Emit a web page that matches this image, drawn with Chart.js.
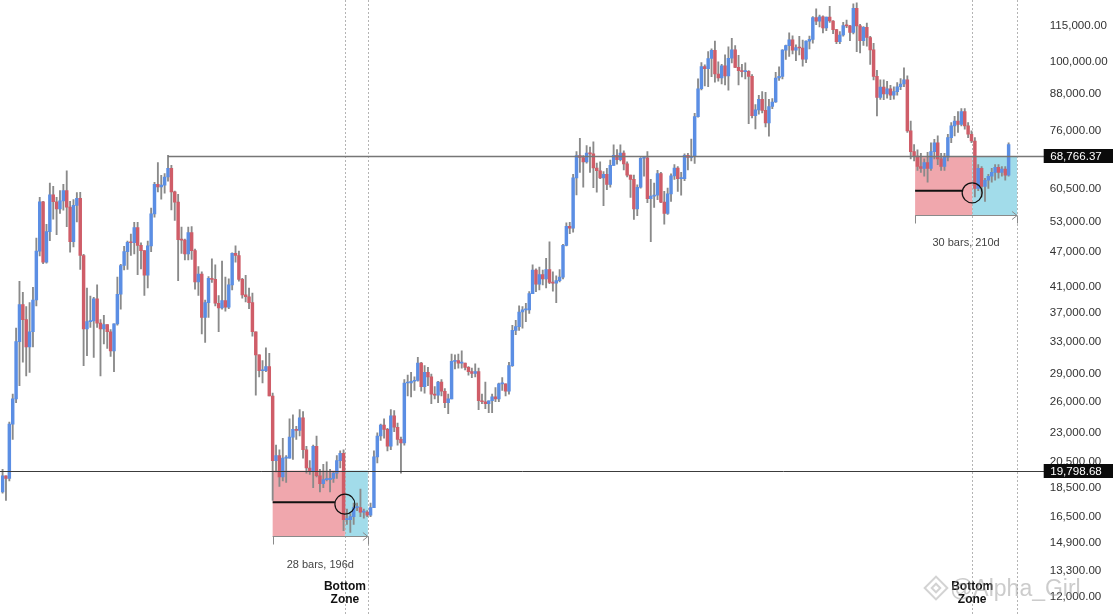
<!DOCTYPE html>
<html>
<head>
<meta charset="utf-8">
<title>BTC weekly - bottom zones</title>
<script src="https://cdn.jsdelivr.net/npm/chart.js@4.4.1/dist/chart.umd.min.js"></script>
<style>
  html, body { margin: 0; padding: 0; background: #fff; }
  #wrap { position: relative; width: 1116px; height: 614px; }
</style>
</head>
<body>
<div id="wrap"><canvas id="chart"></canvas></div>
<script>
// weekly candles, prices in thousands of USD
var openK = [
  18.2,19.4,19.2,23.8,26.3,33.0,38.2,36.0,32.3,34.3,38.9,47.2,57.4,45.2,51.0,59.0,57.4,55.8,57.6,60.0,
  56.2,49.0,56.6,58.2,46.4,34.7,35.7,35.8,39.1,35.5,34.7,35.3,34.3,31.8,35.4,39.8,44.6,47.1,48.9,48.8,
  51.8,48.3,47.3,42.9,48.2,54.7,61.5,60.9,61.3,63.3,65.5,59.7,57.3,49.4,49.3,46.7,50.8,47.3,41.8,43.1,
  36.3,38.5,42.4,42.2,38.4,37.7,38.8,37.8,41.3,46.8,46.4,42.2,39.7,39.4,38.5,34.3,31.3,29.4,29.4,29.9,
  26.6,20.6,21.0,19.3,20.8,20.8,22.6,23.3,23.2,24.4,21.5,20.0,19.8,21.8,19.4,18.8,19.1,19.1,19.2,19.6,
  20.6,21.2,16.3,16.3,16.5,17.1,17.1,16.8,16.8,16.6,17.1,20.9,22.7,23.7,23.3,21.8,24.6,23.5,22.4,22.1,
  28.0,28.0,28.2,28.3,30.3,27.6,29.2,28.7,26.8,26.7,28.1,27.1,25.9,26.3,30.5,30.6,30.3,30.3,29.8,29.3,
  29.1,29.3,26.1,26.0,25.8,26.1,26.5,26.3,27.9,27.9,27.1,30.0,34.5,35.0,37.1,37.4,37.4,39.9,43.8,41.4,
  43.0,42.3,43.9,41.7,41.6,42.0,42.6,48.3,52.1,51.7,63.1,68.9,68.4,67.2,69.6,69.4,65.6,64.9,63.1,64.0,
  61.5,66.3,69.0,67.8,69.6,66.7,63.8,62.7,55.8,60.8,68.2,68.3,58.1,58.7,58.9,64.2,57.3,54.8,59.2,63.6,
  65.6,62.9,62.9,69.0,68.4,68.7,80.4,89.8,98.0,97.2,101.2,104.5,95.2,93.7,98.3,94.5,101.3,104.7,97.7,96.5,
  96.1,96.2,94.3,80.7,82.6,86.1,82.4,78.4,83.7,85.2,93.7,94.3,104.6,106.5,109.0,104.6,105.7,105.5,100.9,108.4,
  109.2,119.0,117.3,119.4,114.2,119.3,117.4,113.5,108.2,111.1,115.3,115.2,112.2,123.5,115.2,108.6,114.5,110.0,104.7,94.3,
  86.8,90.4,88.0,89.8,87.5,88.8,90.5,91.5,93.0,76.0,70.0,68.8,66.0,65.5,67.0,65.5,70.0,72.5,68.0,66.0,
  68.5,74.0,77.5,79.0,78.0,82.0,77.5,75.0,73.0,60.5,65.5,61.0,62.5,63.5,64.5,65.8,64.5,65.3,63.8
];
var highK = [
  19.9,19.4,24.0,26.8,34.8,41.9,40.1,37.9,38.5,40.9,49.7,58.4,57.5,52.5,61.8,61.0,58.4,60.0,61.5,64.9,
  57.5,57.9,59.5,59.6,46.6,40.8,39.5,39.3,41.3,36.0,36.6,35.3,34.6,35.4,42.6,44.8,48.1,49.1,50.5,52.9,
  52.9,48.8,47.3,49.1,56.0,62.0,67.0,63.7,64.2,69.0,66.3,59.9,59.1,51.9,49.5,51.9,52.0,47.6,44.4,43.5,
  38.9,42.7,45.8,44.7,39.6,45.4,42.6,42.3,46.9,48.2,47.2,42.4,42.9,40.8,40.0,34.3,31.3,30.6,32.2,31.5,
  26.9,21.9,21.5,22.5,21.0,24.3,24.7,23.6,25.2,25.0,21.8,20.6,21.9,22.7,19.9,20.3,20.5,19.9,19.7,21.0,
  21.4,21.5,17.0,16.7,17.4,17.4,18.4,17.0,16.9,17.4,21.4,23.0,23.8,24.3,23.4,25.2,25.1,23.9,22.6,28.4,
  28.9,29.2,28.7,31.0,30.4,30.0,29.8,29.0,27.6,28.2,28.4,27.4,26.8,31.4,31.3,31.4,31.8,30.3,29.9,29.7,
  30.2,29.7,26.8,28.1,26.1,26.8,27.5,28.0,28.6,27.9,30.4,35.2,35.9,38.0,37.9,38.4,40.2,44.7,44.0,44.3,
  43.8,45.9,49.0,43.5,42.8,43.9,48.5,52.8,52.9,64.0,70.0,73.8,68.9,71.7,71.3,72.8,66.9,67.2,64.7,65.5,
  67.7,71.9,70.6,71.9,70.2,67.2,63.8,63.8,61.4,68.4,68.5,70.0,62.7,61.8,65.0,64.5,59.8,60.6,64.1,66.5,
  66.0,64.5,69.4,69.5,73.6,81.5,93.4,99.6,98.7,104.0,105.2,108.4,99.9,98.9,102.7,106.0,109.6,106.5,102.5,98.9,
  99.5,96.5,95.0,84.3,87.5,88.8,88.5,86.1,86.4,95.8,97.9,104.9,106.7,112.0,110.7,106.8,110.5,108.9,108.5,110.6,
  119.5,123.2,120.2,119.8,119.3,124.5,117.6,113.6,112.6,116.8,117.9,115.4,125.7,126.2,115.9,114.9,116.4,110.5,107.5,96.6,
  93.0,93.0,92.5,91.0,90.5,92.0,93.5,97.5,94.5,79.0,72.0,70.5,69.5,68.0,69.8,72.5,73.5,74.5,69.5,69.5,
  75.0,78.5,80.5,82.0,83.0,83.0,78.5,76.0,74.0,66.5,66.0,63.0,64.0,65.5,66.5,66.5,66.0,66.0,72.5
];
var lowK = [
  18.1,17.6,19.0,22.4,25.9,27.7,30.4,28.8,29.2,32.3,38.0,46.3,44.9,45.0,49.2,53.6,50.4,54.8,55.5,52.0,
  47.0,48.0,53.0,43.9,30.0,31.2,34.9,31.0,34.9,28.8,32.7,32.1,31.1,29.3,35.2,37.5,43.8,43.9,46.4,46.7,
  43.0,44.0,39.6,40.8,47.1,54.0,59.7,58.0,59.4,62.3,55.6,53.3,42.0,46.8,45.6,45.6,45.7,40.6,39.6,34.0,
  32.9,36.3,41.7,38.0,34.3,37.5,37.2,37.6,40.5,45.2,41.9,39.2,38.6,37.6,33.7,26.7,28.7,28.0,29.3,26.6,
  17.6,19.7,18.6,19.0,18.9,20.8,20.7,22.4,22.7,20.8,19.6,19.5,18.5,19.3,18.2,18.5,19.0,18.2,18.9,19.2,
  20.0,15.6,16.0,15.5,16.0,16.9,16.5,16.4,16.5,16.5,17.1,20.4,22.3,22.5,21.4,21.5,23.1,21.9,19.6,21.9,
  26.6,26.5,27.2,28.2,27.1,26.9,27.7,25.8,26.3,25.9,26.6,25.4,24.8,26.3,29.6,29.7,29.7,29.5,28.9,28.6,
  28.7,25.2,25.8,25.3,24.9,24.9,26.0,26.0,27.2,26.6,26.8,29.9,33.9,34.5,34.8,35.7,36.9,39.9,40.2,40.5,
  41.3,40.8,41.5,40.3,38.5,41.8,42.3,48.2,50.6,50.9,59.0,64.5,60.8,66.9,64.5,60.7,59.6,62.9,56.5,60.2,
  60.8,66.3,66.6,67.5,65.1,63.3,58.4,53.5,54.3,60.6,63.5,57.2,49.0,56.1,57.9,57.2,52.5,54.6,57.5,62.7,
  59.8,58.9,62.4,65.1,67.5,66.8,80.2,89.4,90.8,90.5,94.2,92.2,92.5,91.5,91.2,89.3,99.5,97.6,91.2,94.1,
  93.4,78.2,80.0,76.6,81.2,81.6,77.2,74.4,83.0,85.1,92.8,93.4,100.8,102.1,103.1,100.4,102.7,98.2,99.6,105.1,
  107.5,115.7,114.7,112.0,113.0,116.8,111.7,107.3,107.3,110.6,114.4,108.6,111.6,104.0,103.5,106.6,106.3,98.9,93.0,80.6,
  86.1,86.0,86.5,86.0,86.2,87.5,89.5,90.5,75.5,68.0,67.5,65.0,64.5,63.5,62.0,65.0,68.0,66.5,65.0,65.0,
  67.5,72.5,74.5,75.5,77.5,76.5,74.0,72.5,58.5,60.0,58.5,57.5,60.5,62.0,62.5,63.0,63.5,62.5,63.5
];
var closeK = [
  19.4,19.2,23.8,26.3,33.0,38.2,36.0,32.3,34.3,38.9,47.2,57.4,45.2,51.0,59.0,57.4,55.8,57.6,60.0,56.2,
  49.0,56.6,58.2,46.4,34.7,35.7,35.8,39.1,35.5,34.7,35.3,34.3,31.8,35.4,39.8,44.6,47.1,48.9,48.8,51.8,
  48.3,47.3,42.9,48.2,54.7,61.5,60.9,61.3,63.3,65.5,59.7,57.3,49.4,49.3,46.7,50.8,47.3,41.8,43.1,36.3,
  38.5,42.4,42.2,38.4,37.7,38.8,37.8,41.3,46.8,46.4,42.2,39.7,39.4,38.5,34.3,31.3,29.4,29.4,29.9,26.6,
  20.6,21.0,19.3,20.8,20.8,22.6,23.3,23.2,24.4,21.5,20.0,19.8,21.8,19.4,18.8,19.1,19.1,19.2,19.6,20.6,
  21.2,16.3,16.3,16.5,17.1,17.1,16.8,16.8,16.6,17.1,20.9,22.7,23.7,23.3,21.8,24.6,23.5,22.4,22.1,28.0,
  28.0,28.2,28.3,30.3,27.6,29.2,28.7,26.8,26.7,28.1,27.1,25.9,26.3,30.5,30.6,30.3,30.3,29.8,29.3,29.1,
  29.3,26.1,26.0,25.8,26.1,26.5,26.3,27.9,27.9,27.1,30.0,34.5,35.0,37.1,37.4,37.4,39.9,43.8,41.4,43.0,
  42.3,43.9,41.7,41.6,42.0,42.6,48.3,52.1,51.7,63.1,68.9,68.4,67.2,69.6,69.4,65.6,64.9,63.1,64.0,61.5,
  66.3,69.0,67.8,69.6,66.7,63.8,62.7,55.8,60.8,68.2,68.3,58.1,58.7,58.9,64.2,57.3,54.8,59.2,63.6,65.6,
  62.9,62.9,69.0,68.4,68.7,80.4,89.8,98.0,97.2,101.2,104.5,95.2,93.7,98.3,94.5,101.3,104.7,97.7,96.5,96.1,
  96.2,94.3,80.7,82.6,86.1,82.4,78.4,83.7,85.2,93.7,94.3,104.6,106.5,109.0,104.6,105.7,105.5,100.9,108.4,109.2,
  119.0,117.3,119.4,114.2,119.3,117.4,113.5,108.2,111.1,115.3,115.2,112.2,123.5,115.2,108.6,114.5,110.0,104.7,94.3,86.8,
  90.4,88.0,89.8,87.5,88.8,90.5,91.5,93.0,76.0,70.0,68.8,66.0,65.5,67.0,65.5,70.0,72.5,68.0,66.0,68.5,
  74.0,77.5,79.0,78.0,82.0,77.5,75.0,73.0,60.5,65.5,61.0,62.5,63.5,64.5,65.8,64.5,65.3,63.8,72.0
];

// right axis tick labels
var yTicks = [115000, 100000, 88000, 76000, 60500, 53000, 47000, 41000, 37000, 33000,
              29000, 26000, 23000, 20500, 18500, 16500, 14900, 13300, 12000];

// horizontal levels: old highs
var levels = [68766.37, 19798.68];
var levelFrom = [49, -1];   // bar where each line starts (-1 = left edge)

// the two bottom zones (bar positions, price range)
var zoneStart  = [80, 270.3];
var zoneSplit  = [101.4, 287.2];
var zoneEnd    = [108.2, 300.5];
var zoneTop    = [19798.68, 68766.37];
var zoneBottom = [15250, 54400];
var zoneMark   = [17400, 59700];
var zoneText   = ['28 bars, 196d', '30 bars, 210d'];

var totalSlots = 308;
var weeks = [];
for (var i = 0; i < totalSlots; i++) weeks.push('W' + (i + 1));

var upColor = '#5b8ee4';
var downColor = '#cf5d68';
var wickColor = '#8a8a8a';
var axisFont = '"Liberation Sans", Arial, sans-serif';

var bodies = closeK.map(function (c, i) { return [openK[i] * 1000, c * 1000]; });
var wicks = highK.map(function (h, i) { return [lowK[i] * 1000, h * 1000]; });
var bodyColors = closeK.map(function (c, i) { return c >= openK[i] ? upColor : downColor; });

function fmt(v) {
  return Number(v).toLocaleString('en-US', { minimumFractionDigits: 2, maximumFractionDigits: 2 });
}

var overlay = {
  id: 'overlay',
  beforeDatasetsDraw: function (chart) {
    var c = chart.ctx, xs = chart.scales.x, ys = chart.scales.y, a = chart.chartArea;
    c.save();
    for (var k = 0; k < zoneStart.length; k++) {
      var x0 = xs.getPixelForValue(zoneStart[k]);
      var x1 = xs.getPixelForValue(zoneSplit[k]);
      var x2 = xs.getPixelForValue(zoneEnd[k]);
      var yT = ys.getPixelForValue(zoneTop[k]);
      var yB = ys.getPixelForValue(zoneBottom[k]);
      c.fillStyle = '#f0a7ad';
      c.fillRect(x0, yT, x1 - x0, yB - yT);
      c.fillStyle = '#a2dcea';
      c.fillRect(x1, yT, x2 - x1, yB - yT);
      // dotted verticals
      c.strokeStyle = '#b4b4b4';
      c.lineWidth = 1;
      c.setLineDash([2, 2]);
      [x1, x2].forEach(function (x) {
        c.beginPath();
        c.moveTo(Math.round(x) + 0.5, a.top);
        c.lineTo(Math.round(x) + 0.5, a.bottom);
        c.stroke();
      });
      c.setLineDash([]);
    }
    c.restore();
  },
  afterDatasetsDraw: function (chart) {
    var c = chart.ctx, xs = chart.scales.x, ys = chart.scales.y, a = chart.chartArea;
    c.save();
    // level lines
    levels.forEach(function (lv, k) {
      var y = Math.round(ys.getPixelForValue(lv)) + 0.5;
      var xStart = levelFrom[k] < 0 ? 0 : xs.getPixelForValue(levelFrom[k]);
      c.strokeStyle = k === 0 ? '#767676' : '#3c3c3c';
      c.lineWidth = k === 0 ? 1.4 : 1;
      c.beginPath();
      c.moveTo(xStart, y);
      c.lineTo(a.right + 4, y);
      c.stroke();
    });
    for (var k = 0; k < zoneStart.length; k++) {
      var x0 = xs.getPixelForValue(zoneStart[k]);
      var x1 = xs.getPixelForValue(zoneSplit[k]);
      var x2 = xs.getPixelForValue(zoneEnd[k]);
      var yB = ys.getPixelForValue(zoneBottom[k]);
      var yM = ys.getPixelForValue(zoneMark[k]);
      var r = 10;
      // black marker line and circle
      c.strokeStyle = '#111';
      c.lineWidth = 2;
      c.beginPath();
      c.moveTo(x0, yM - 1);
      c.lineTo(x1 - r, yM - 1);
      c.stroke();
      c.lineWidth = 1.2;
      c.beginPath();
      c.arc(x1, yM + 1, r, 0, Math.PI * 2);
      c.stroke();
      // measure line with ticks and arrow
      c.strokeStyle = '#8a8a8a';
      c.lineWidth = 1;
      var yb = Math.round(yB) + 0.5;
      c.beginPath();
      c.moveTo(x0, yb); c.lineTo(x2, yb);
      c.moveTo(Math.round(x0) + 0.5, yb); c.lineTo(Math.round(x0) + 0.5, yb + 8);
      c.moveTo(Math.round(x2) + 0.5, yb); c.lineTo(Math.round(x2) + 0.5, yb + 8);
      c.moveTo(x2 - 5, yb - 4); c.lineTo(x2, yb); c.lineTo(x2 - 5, yb + 4);
      c.stroke();
      c.fillStyle = '#444';
      c.font = '11px ' + axisFont;
      c.textAlign = 'center';
      c.textBaseline = 'middle';
      c.fillText(zoneText[k], (x0 + x2) / 2, yB + 28);
      // zone caption
      c.fillStyle = '#111';
      c.font = 'bold 12px ' + axisFont;
      c.fillText('Bottom', x1, a.bottom - 27);
      c.fillText('Zone', x1, a.bottom - 14);
    }
    c.restore();
  },
  afterDraw: function (chart) {
    var c = chart.ctx, ys = chart.scales.y, a = chart.chartArea;
    c.save();
    // level price tags on the axis
    levels.forEach(function (lv) {
      var y = ys.getPixelForValue(lv);
      c.fillStyle = '#0b0b0b';
      c.fillRect(a.right + 3, Math.round(y) - 7, 1113 - (a.right + 3), 14);
      c.fillStyle = '#ffffff';
      c.font = '11.6px ' + axisFont;
      c.textAlign = 'left';
      c.textBaseline = 'middle';
      c.fillText(fmt(lv), a.right + 9.5, Math.round(y) + 0.5);
    });
    // watermark
    c.globalAlpha = 0.5;
    c.strokeStyle = '#a8a8a8';
    c.lineWidth = 2;
    c.save();
    c.translate(936, 588);
    c.rotate(Math.PI / 4);
    c.strokeRect(-8, -8, 16, 16);
    c.strokeRect(-3, -3, 6, 6);
    c.restore();
    c.fillStyle = '#9a9a9a';
    c.font = '23px ' + axisFont;
    c.textAlign = 'left';
    c.textBaseline = 'middle';
    c.fillText('@Alpha_Girl', 950, 590);
    c.restore();
  }
};

var ctx = document.getElementById('chart').getContext('2d');
var chart = new Chart(ctx, {
  type: 'bar',
  data: {
    labels: weeks,
    datasets: [
      { label: 'wick', data: wicks, backgroundColor: wickColor, barThickness: 1.2, grouped: false, order: 2 },
      { label: 'body', data: bodies, backgroundColor: bodyColors, barThickness: 2.8, minBarLength: 1, grouped: false, order: 1 }
    ]
  },
  options: {
    responsive: true,
    maintainAspectRatio: false,
    animation: false,
    layout: { padding: { left: 0.9, right: 0, top: 0, bottom: 0 } },
    plugins: { legend: { display: false }, tooltip: { enabled: false } },
    scales: {
      x: { display: false, offset: true, grid: { display: false } },
      y: {
        type: 'logarithmic',
        position: 'right',
        min: 11220,
        max: 127600,
        grid: { display: false, drawTicks: false },
        border: { display: false },
        afterBuildTicks: function (s) {
          s.ticks = yTicks.map(function (v) { return { value: v }; });
        },
        afterFit: function (s) {
          s.width = 75.3;
          s.paddingTop = 0;
          s.paddingBottom = 0;
        },
        ticks: {
          autoSkip: false,
          padding: 9,
          color: '#333',
          font: { family: axisFont, size: 11.6 },
          callback: function (v) { return fmt(v); }
        }
      }
    }
  },
  plugins: [overlay]
});
</script>
</body>
</html>
